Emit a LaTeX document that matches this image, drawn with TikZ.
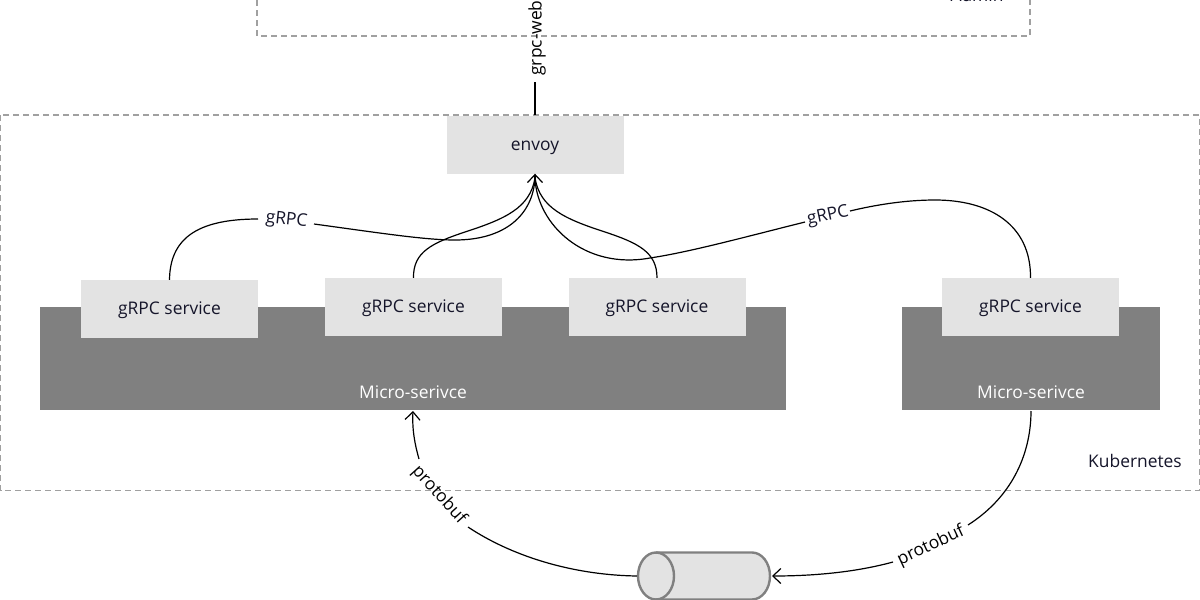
\documentclass[tikz,border=0pt]{standalone}
\usepackage{fontspec}
\setmainfont{Open Sans}
\usetikzlibrary{arrows.meta}
\definecolor{boxgray}{HTML}{E3E3E3}
\definecolor{darkgray}{HTML}{808080}
\definecolor{dashgray}{HTML}{A0A0A0}
\definecolor{inkblue}{HTML}{15152A}
\tikzset{
  x=1pt,y=-1pt,
  region/.style={draw=dashgray,line width=1.4pt,dash pattern=on 6pt off 4pt},
  txtsize/.style={font=\fontsize{17.4}{19}\selectfont},
  lightbox/.style={fill=boxgray,minimum width=177pt,minimum height=58pt,inner sep=0pt,txtsize,text=inkblue,text height=11.5pt,text depth=0pt},
  darkbox/.style={fill=darkgray,inner sep=0pt},
  whitelabel/.style={text=white,txtsize,inner sep=0pt},
  plainlabel/.style={txtsize,text=inkblue,inner sep=0pt},
  link/.style={draw=black,line width=1.2pt},
  tip/.style={-{Straight Barb[length=8pt,width=15pt,line width=1.2pt]}},
}
\begin{document}
\begin{tikzpicture}
\useasboundingbox (0,0) rectangle (1200,600);
\clip (0,0) rectangle (1200,600);
\fill[white] (0,0) rectangle (1200,600);
% regions
\draw[region] (257,-20) -- (257,36) -- (1030,36) -- (1030,-20);
\draw[region] (0.6,115) rectangle (1199.4,490.5);
\node[plainlabel,anchor=base] (admin) at (977,1) {Admin};
\node[plainlabel,anchor=base] (k8s) at (1135,467) {Kubernetes};
% dark blocks
\node[darkbox,minimum width=746pt,minimum height=103pt] (ms1) at (413,358.5) {};
\node[darkbox,minimum width=258pt,minimum height=103pt] (ms2) at (1031,358.5) {};
\node[whitelabel,anchor=base] (ms1t) at (413,398) {Micro-serivce};
\node[whitelabel,anchor=base] (ms2t) at (1031,398) {Micro-serivce};
% light boxes
\node[lightbox] (envoy) at (535,144.5) {envoy};
\node[lightbox] (g1) at (169.5,309) {gRPC service};
\node[lightbox] (g2) at (413.5,307) {gRPC service};
\node[lightbox] (g3) at (657,307) {gRPC service};
\node[lightbox] (g4) at (1030.5,307) {gRPC service};
% connectors into envoy
\draw[link] (g2.north) .. controls (413,252) and (432,243) .. (465,232)
   .. controls (505,219) and (530,208) .. (535,178);
\draw[link] (g3.north) .. controls (657,252) and (638,243) .. (605,232)
   .. controls (565,219) and (540,208) .. (535,178);
\draw[link] (g1.north) .. controls (170,240) and (195,219) .. (258,219);
\draw[link] (314,224) .. controls (380,233) and (425,240) .. (455,240)
   .. controls (505,240) and (533,215) .. (535,178);
\draw[link] (g4.north) .. controls (1031,225) and (990,200) .. (935,200)
   .. controls (905,200) and (875,205) .. (850,211);
\draw[link] (805,222) .. controls (745,237) and (690,252) .. (650,258)
   .. controls (585,270) and (537,225) .. (535,178);
\draw[link,tip] (535,180) -- (envoy.south);
\draw[link] (envoy.north) -- (535,82);
\node[plainlabel,rotate=90,text=black] (gw) at (537,38) {grpc-web};
\node[plainlabel,rotate=-6] (l1) at (286.5,220) {gRPC};
\node[plainlabel,rotate=12] (l2) at (828,216) {gRPC};
% cylinder
\draw[draw=darkgray,line width=2.4pt,fill=boxgray] (656,552.5) -- (752,552.5) arc[start angle=90,end angle=-90,x radius=18pt,y radius=23.5pt] -- (656,599.5) arc[start angle=270,end angle=90,x radius=18pt,y radius=23.5pt] -- cycle;
\draw[draw=darkgray,line width=2.4pt] (656,552.5) arc[start angle=90,end angle=-90,x radius=18pt,y radius=23.5pt];
\coordinate (cr) at (772,576);
\coordinate (cl) at (637,576);
% protobuf
\draw[link] (1031,411) .. controls (1031,450) and (1015,495) .. (968,525);
\draw[link,tip] (893,562) .. controls (860,571) and (820,576) .. (cr);
\draw[link] (cl) .. controls (570,575) and (510,555) .. (468,527);
\draw[link,tip] (419,459) .. controls (415,445) and (412,430) .. (413,411);
\node[plainlabel,text=black,rotate=-48] (p1) at (439,495) {protobuf};
\node[plainlabel,text=black,rotate=25] (p2) at (931,546) {protobuf};
\end{tikzpicture}
\end{document}
